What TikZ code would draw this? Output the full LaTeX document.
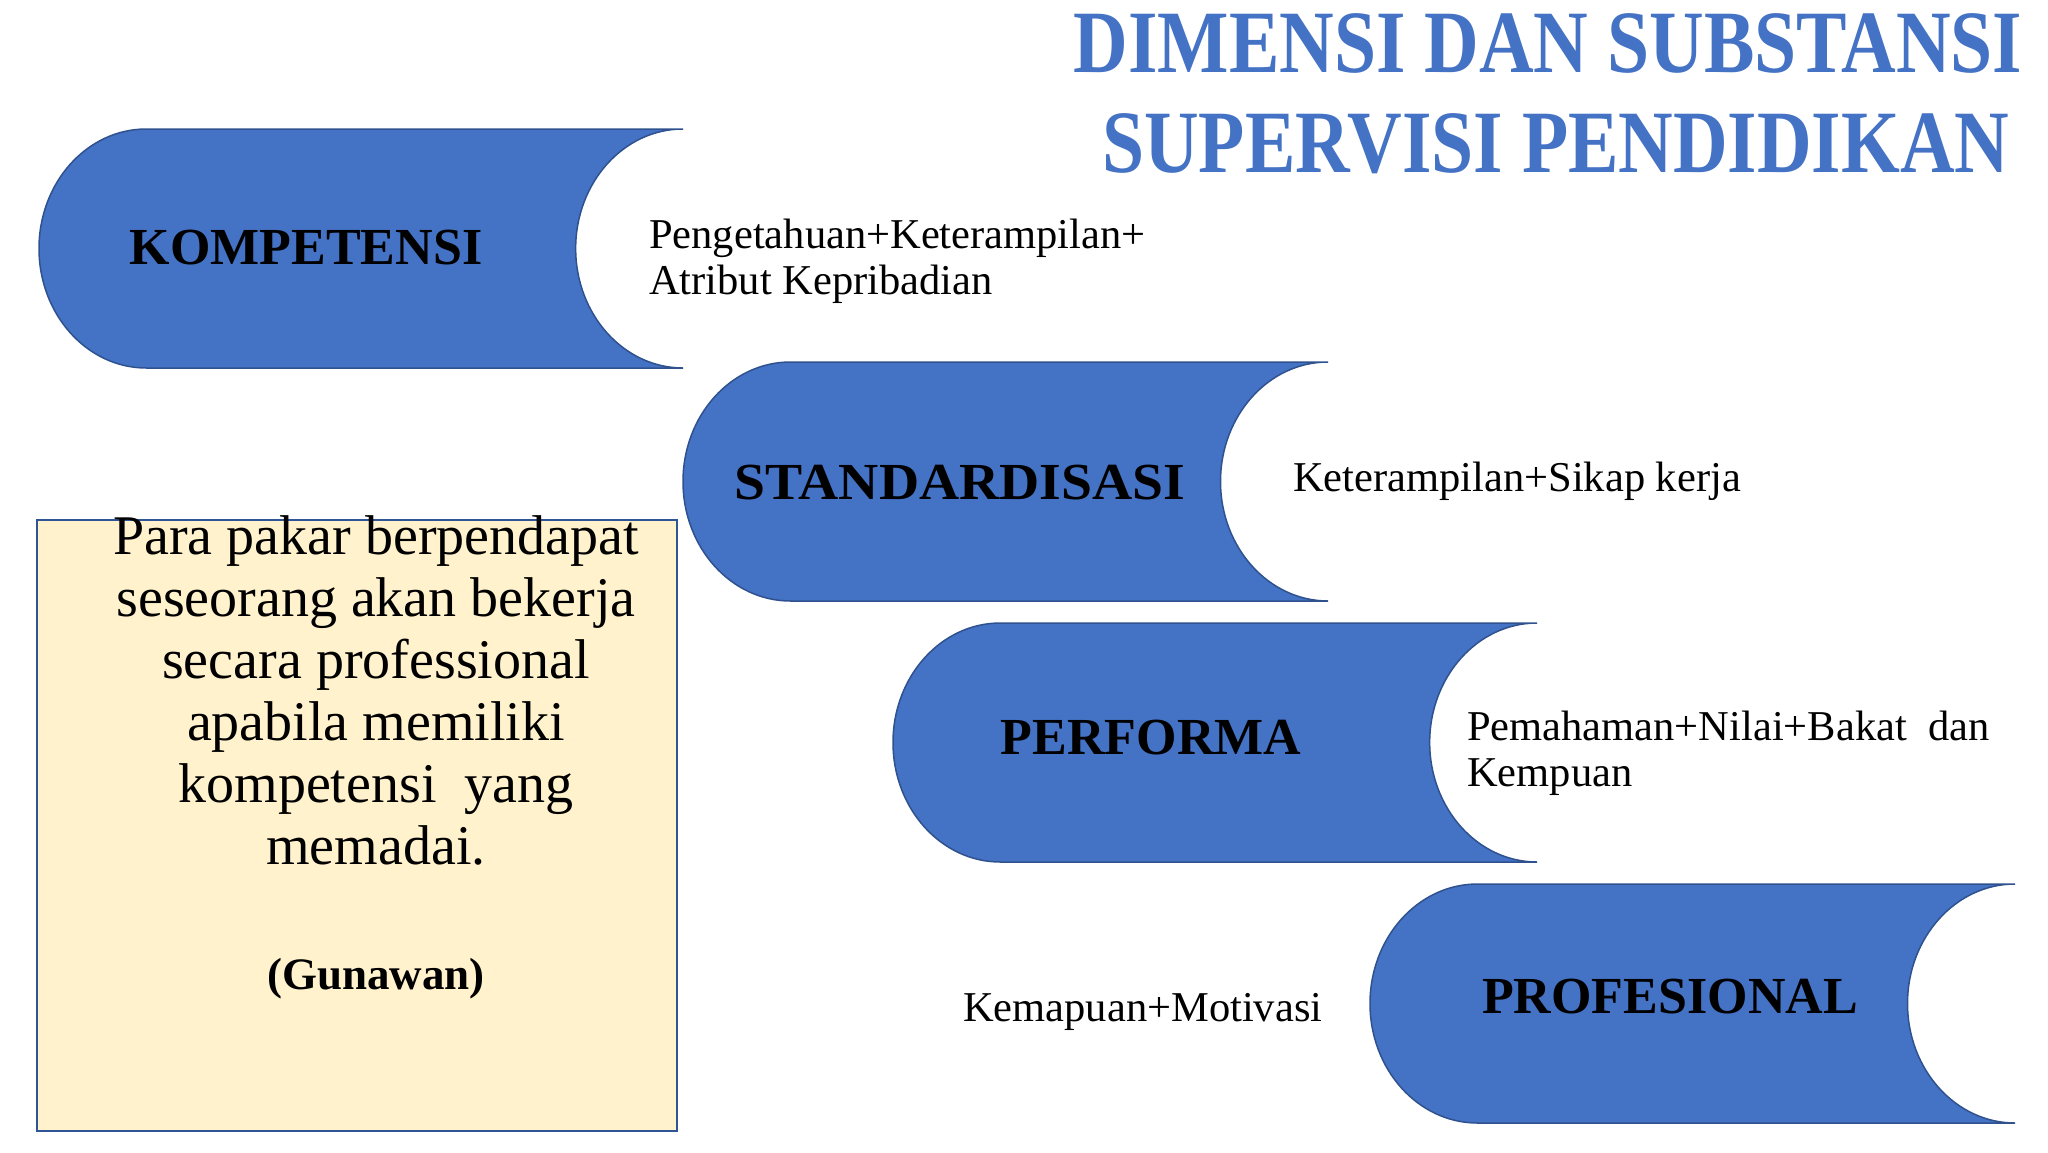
\documentclass[tikz,border=0pt]{standalone}
\usepackage{fontspec}
\setmainfont{Liberation Serif}
\newfontfamily\titlefont{Liberation Serif}
\definecolor{shapeblue}{HTML}{4472C4}
\definecolor{shapeedge}{HTML}{2F528F}
\definecolor{boxfill}{HTML}{FFF2CC}
\definecolor{boxedge}{HTML}{2F5597}
\newcommand{\stdshape}[4]{%
  \path[storedshape] ({#1+#3/6},{-#2}) -- ({#1+#3},{-#2})
    arc[start angle=90, end angle=270, x radius={#3/6}, y radius={#4/2}]
    -- ({#1+#3/6},{-#2-#4})
    arc[start angle=270, end angle=90, x radius={#3/6}, y radius={#4/2}]
    -- cycle;}
\tikzset{
  storedshape/.style={fill=shapeblue, draw=shapeedge, line width=1.5pt},
  shapelabel/.style={font=\fontsize{52}{60}\selectfont\bfseries, text=black, inner sep=0pt},
  desctext/.style={font=\fontsize{42.5}{46}\selectfont, anchor=base west, align=left, inner sep=0pt},
  titletext/.style={font=\titlefont\fontsize{89}{100}\selectfont\bfseries, text=shapeblue, anchor=base, inner sep=0pt},
}
\begin{document}
\begin{tikzpicture}[x=1pt,y=1pt]
\useasboundingbox (0,0) rectangle (2048,-1152);
\fill[white] (0,0) rectangle (2048,-1152);
% title
\node[titletext] (t1) at (1548,-72) {\scalebox{0.85}[1]{DIMENSI DAN SUBSTANSI}};
\node[titletext] (t2) at (1556,-172) {\scalebox{0.85}[1]{SUPERVISI PENDIDIKAN}};
% shapes
\stdshape{39}{129}{644}{239}
\stdshape{683}{362}{645}{239}
\stdshape{893}{623}{644}{239}
\stdshape{1370}{884}{645}{239}
% labels
\node[shapelabel] (k) at (306,-248) {KOMPETENSI};
\node[shapelabel] (s) at (960,-483) {\scalebox{1.07}[1]{STANDARDISASI}};
\node[shapelabel] (p) at (1151,-738) {PERFORMA};
\node[shapelabel] (f) at (1670,-997) {PROFESIONAL};
% descriptions
\node[desctext] (dk) at (649,-294) {Pengetahuan+Keterampilan+\\Atribut Kepribadian};
\node[desctext] (ds) at (1293,-491) {Keterampilan+Sikap kerja};
\node[desctext] (dp) at (1467,-786) {Pemahaman+Nilai+Bakat\ \ dan\\Kempuan};
\node[desctext] (df) at (963,-1021) {Kemapuan+Motivasi};
% quote box
\path[fill=boxfill, draw=boxedge, line width=1.5pt] (37,-520) rectangle (677,-1131);
\node[font=\fontsize{56}{62}\selectfont, align=center, anchor=base, inner sep=0pt] (q) at (376,-864)
  {Para pakar berpendapat\\seseorang akan bekerja\\secara professional\\apabila memiliki\\kompetensi\ \ yang\\memadai.};
\node[font=\fontsize{45}{50}\selectfont\bfseries, anchor=base, inner sep=0pt] (g) at (376,-989) {(Gunawan)};
\end{tikzpicture}
\end{document}
